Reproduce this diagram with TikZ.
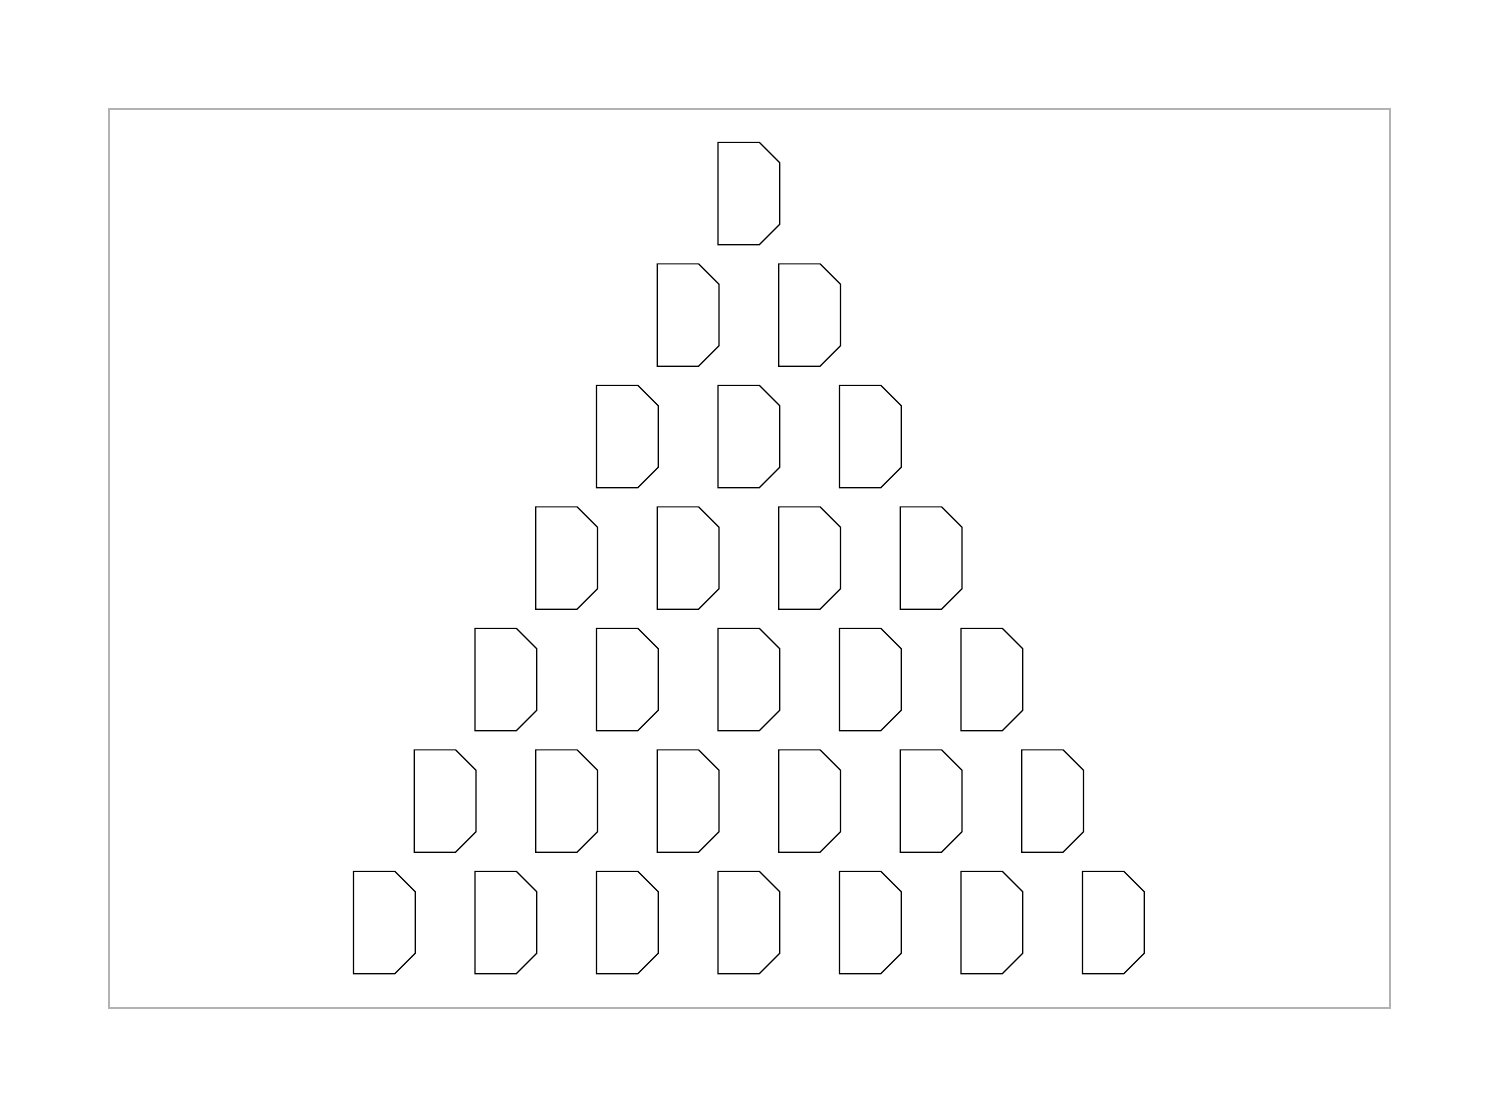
\documentclass[tikz,border=0pt]{standalone}
\usepackage{xcolor}
\usepackage{tikz}

\begin{document}
\begin{tikzpicture}[x=0.02cm,y=-0.02cm]
			\tikzstyle{frame} = [draw=black!30, line width=0.75pt]
			\tikzstyle{dbox} = [minimum width=1.22cm, minimum height=2.032cm, inner sep=0pt]
			\tikzstyle{outline} = [draw, line width=0.7pt, line join=miter]
			
			\useasboundingbox (0,0) rectangle (1498,1117);
			\draw[frame] (109,109) rectangle (1390,1008);
			
			% rows of the triangle, one more shape per row
			\foreach \r in {0,...,6}{
				\foreach \c in {0,...,\r}{
					\node[dbox](d-\r-\c) at ({748.8-60.75*\r+121.5*\c},{193.5+121.5*\r}) {};
					\draw[outline](d-\r-\c.north west) -- ([xshift=-0.406cm]d-\r-\c.north east)
						-- ([yshift=-0.406cm]d-\r-\c.north east) -- ([yshift=0.406cm]d-\r-\c.south east)
						-- ([xshift=-0.406cm]d-\r-\c.south east) -- (d-\r-\c.south west) -- cycle;
				}
			}
			
			\end{tikzpicture}
\end{document}
